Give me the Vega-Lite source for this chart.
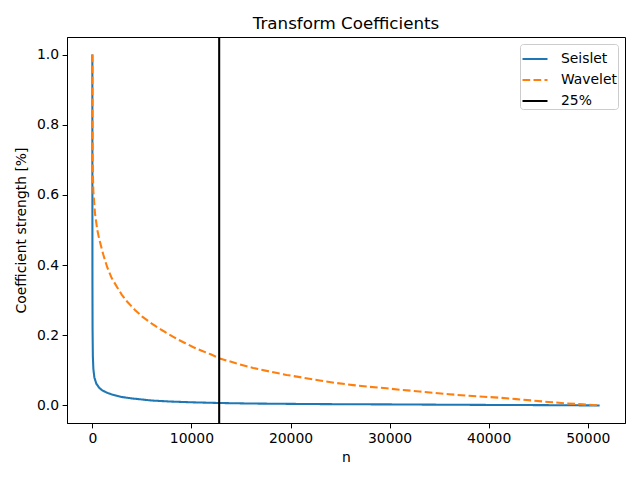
{
  "$schema": "https://vega.github.io/schema/vega-lite/v6.json",
  "width": 558,
  "height": 386,
  "autosize": "none",
  "padding": {"left": 67, "top": 37, "right": 15, "bottom": 57},
  "background": "white",
  "config": {
    "font": "DejaVu Sans",
    "view": {"stroke": "black", "strokeWidth": 1},
    "axis": {"grid": false, "domainColor": "black", "tickColor": "black", "labelColor": "black", "titleColor": "black", "labelFontSize": 13.9, "titleFontSize": 13.9, "titleFontWeight": "normal", "tickSize": 4.9, "labelPadding": 3.5, "labelFont": "DejaVu Sans", "titleFont": "DejaVu Sans"},
    "legend": {"labelFontSize": 13.9, "labelFont": "DejaVu Sans", "labelColor": "black"}
  },
  "title": {"text": "Transform Coefficients", "fontSize": 16.7, "fontWeight": "normal", "font": "DejaVu Sans", "color": "black", "offset": 3, "anchor": "middle"},
  "datasets": {
    "curves": [
      {"n": 0, "v": 1.0, "series": "Seislet"},
      {"n": 3, "v": 0.6, "series": "Seislet"},
      {"n": 8, "v": 0.35, "series": "Seislet"},
      {"n": 20, "v": 0.22, "series": "Seislet"},
      {"n": 50, "v": 0.14, "series": "Seislet"},
      {"n": 100, "v": 0.105, "series": "Seislet"},
      {"n": 200, "v": 0.08, "series": "Seislet"},
      {"n": 400, "v": 0.062, "series": "Seislet"},
      {"n": 700, "v": 0.05, "series": "Seislet"},
      {"n": 1000, "v": 0.043, "series": "Seislet"},
      {"n": 1500, "v": 0.036, "series": "Seislet"},
      {"n": 2000, "v": 0.031, "series": "Seislet"},
      {"n": 3000, "v": 0.024, "series": "Seislet"},
      {"n": 4000, "v": 0.02, "series": "Seislet"},
      {"n": 5000, "v": 0.017, "series": "Seislet"},
      {"n": 6000, "v": 0.014, "series": "Seislet"},
      {"n": 8000, "v": 0.011, "series": "Seislet"},
      {"n": 10000, "v": 0.009, "series": "Seislet"},
      {"n": 12800, "v": 0.007, "series": "Seislet"},
      {"n": 16000, "v": 0.0055, "series": "Seislet"},
      {"n": 20000, "v": 0.0045, "series": "Seislet"},
      {"n": 25000, "v": 0.0035, "series": "Seislet"},
      {"n": 30000, "v": 0.003, "series": "Seislet"},
      {"n": 35000, "v": 0.0022, "series": "Seislet"},
      {"n": 40000, "v": 0.0015, "series": "Seislet"},
      {"n": 45000, "v": 0.001, "series": "Seislet"},
      {"n": 51199, "v": 0.0, "series": "Seislet"},
      {"n": 0, "v": 1.0, "series": "Wavelet"},
      {"n": 10, "v": 0.82, "series": "Wavelet"},
      {"n": 30, "v": 0.7, "series": "Wavelet"},
      {"n": 60, "v": 0.65, "series": "Wavelet"},
      {"n": 100, "v": 0.61, "series": "Wavelet"},
      {"n": 270, "v": 0.546, "series": "Wavelet"},
      {"n": 500, "v": 0.5, "series": "Wavelet"},
      {"n": 700, "v": 0.473, "series": "Wavelet"},
      {"n": 1100, "v": 0.43, "series": "Wavelet"},
      {"n": 1500, "v": 0.394, "series": "Wavelet"},
      {"n": 1950, "v": 0.363, "series": "Wavelet"},
      {"n": 2500, "v": 0.337, "series": "Wavelet"},
      {"n": 2960, "v": 0.316, "series": "Wavelet"},
      {"n": 3500, "v": 0.296, "series": "Wavelet"},
      {"n": 4300, "v": 0.272, "series": "Wavelet"},
      {"n": 5000, "v": 0.254, "series": "Wavelet"},
      {"n": 6000, "v": 0.233, "series": "Wavelet"},
      {"n": 7000, "v": 0.215, "series": "Wavelet"},
      {"n": 7660, "v": 0.204, "series": "Wavelet"},
      {"n": 8500, "v": 0.19, "series": "Wavelet"},
      {"n": 9340, "v": 0.178, "series": "Wavelet"},
      {"n": 10200, "v": 0.166, "series": "Wavelet"},
      {"n": 11030, "v": 0.156, "series": "Wavelet"},
      {"n": 12000, "v": 0.145, "series": "Wavelet"},
      {"n": 12870, "v": 0.134, "series": "Wavelet"},
      {"n": 14500, "v": 0.12, "series": "Wavelet"},
      {"n": 16230, "v": 0.107, "series": "Wavelet"},
      {"n": 18000, "v": 0.096, "series": "Wavelet"},
      {"n": 19600, "v": 0.087, "series": "Wavelet"},
      {"n": 21300, "v": 0.079, "series": "Wavelet"},
      {"n": 22950, "v": 0.071, "series": "Wavelet"},
      {"n": 24600, "v": 0.064, "series": "Wavelet"},
      {"n": 26310, "v": 0.058, "series": "Wavelet"},
      {"n": 28000, "v": 0.053, "series": "Wavelet"},
      {"n": 29680, "v": 0.049, "series": "Wavelet"},
      {"n": 31000, "v": 0.045, "series": "Wavelet"},
      {"n": 33000, "v": 0.04, "series": "Wavelet"},
      {"n": 34380, "v": 0.036, "series": "Wavelet"},
      {"n": 36000, "v": 0.032, "series": "Wavelet"},
      {"n": 37740, "v": 0.028, "series": "Wavelet"},
      {"n": 39500, "v": 0.025, "series": "Wavelet"},
      {"n": 41100, "v": 0.022, "series": "Wavelet"},
      {"n": 42800, "v": 0.018, "series": "Wavelet"},
      {"n": 44460, "v": 0.014, "series": "Wavelet"},
      {"n": 46000, "v": 0.01, "series": "Wavelet"},
      {"n": 47820, "v": 0.006, "series": "Wavelet"},
      {"n": 49500, "v": 0.003, "series": "Wavelet"},
      {"n": 51199, "v": 0.0, "series": "Wavelet"}
    ],
    "marker": [
      {"n": 12800, "series": "25%"}
    ]
  },
  "layer": [
    {
      "data": {"name": "curves"},
      "mark": {"type": "line", "strokeWidth": 2.08, "interpolate": "linear"},
      "encoding": {
        "x": {"field": "n", "type": "quantitative", "title": "n",
          "scale": {"domain": [-2560, 53760], "nice": false, "zero": false},
          "axis": {"values": [0, 10000, 20000, 30000, 40000, 50000], "format": "d", "titlePadding": 5}},
        "y": {"field": "v", "type": "quantitative", "title": "Coefficient strength [%]",
          "scale": {"domain": [-0.05, 1.05], "nice": false, "zero": false},
          "axis": {"values": [0, 0.2, 0.4, 0.6, 0.8, 1.0], "format": ".1f", "titlePadding": 8}},
        "color": {"field": "series", "type": "nominal",
          "scale": {"domain": ["Seislet", "Wavelet", "25%"], "range": ["#1f77b4", "#ff7f0e", "#000000"]},
          "legend": {"title": null, "orient": "top-right", "offset": 7, "symbolType": "stroke", "symbolSize": 625, "symbolStrokeWidth": 2.08, "labelOffset": 12, "rowPadding": -2.5, "padding": 1, "fillColor": "rgba(255,255,255,0.8)", "strokeColor": "#cccccc", "cornerRadius": 3}},
        "strokeDash": {"field": "series", "type": "nominal",
          "scale": {"domain": ["Seislet", "Wavelet", "25%"], "range": [[1, 0], [7.7, 3.3], [1, 0]]},
          "legend": null},
        "order": {"field": "n", "type": "quantitative"}
      }
    },
    {
      "data": {"name": "marker"},
      "mark": {"type": "rule", "strokeWidth": 2.08},
      "encoding": {
        "x": {"field": "n", "type": "quantitative"},
        "color": {"field": "series", "type": "nominal"}
      }
    }
  ]
}
